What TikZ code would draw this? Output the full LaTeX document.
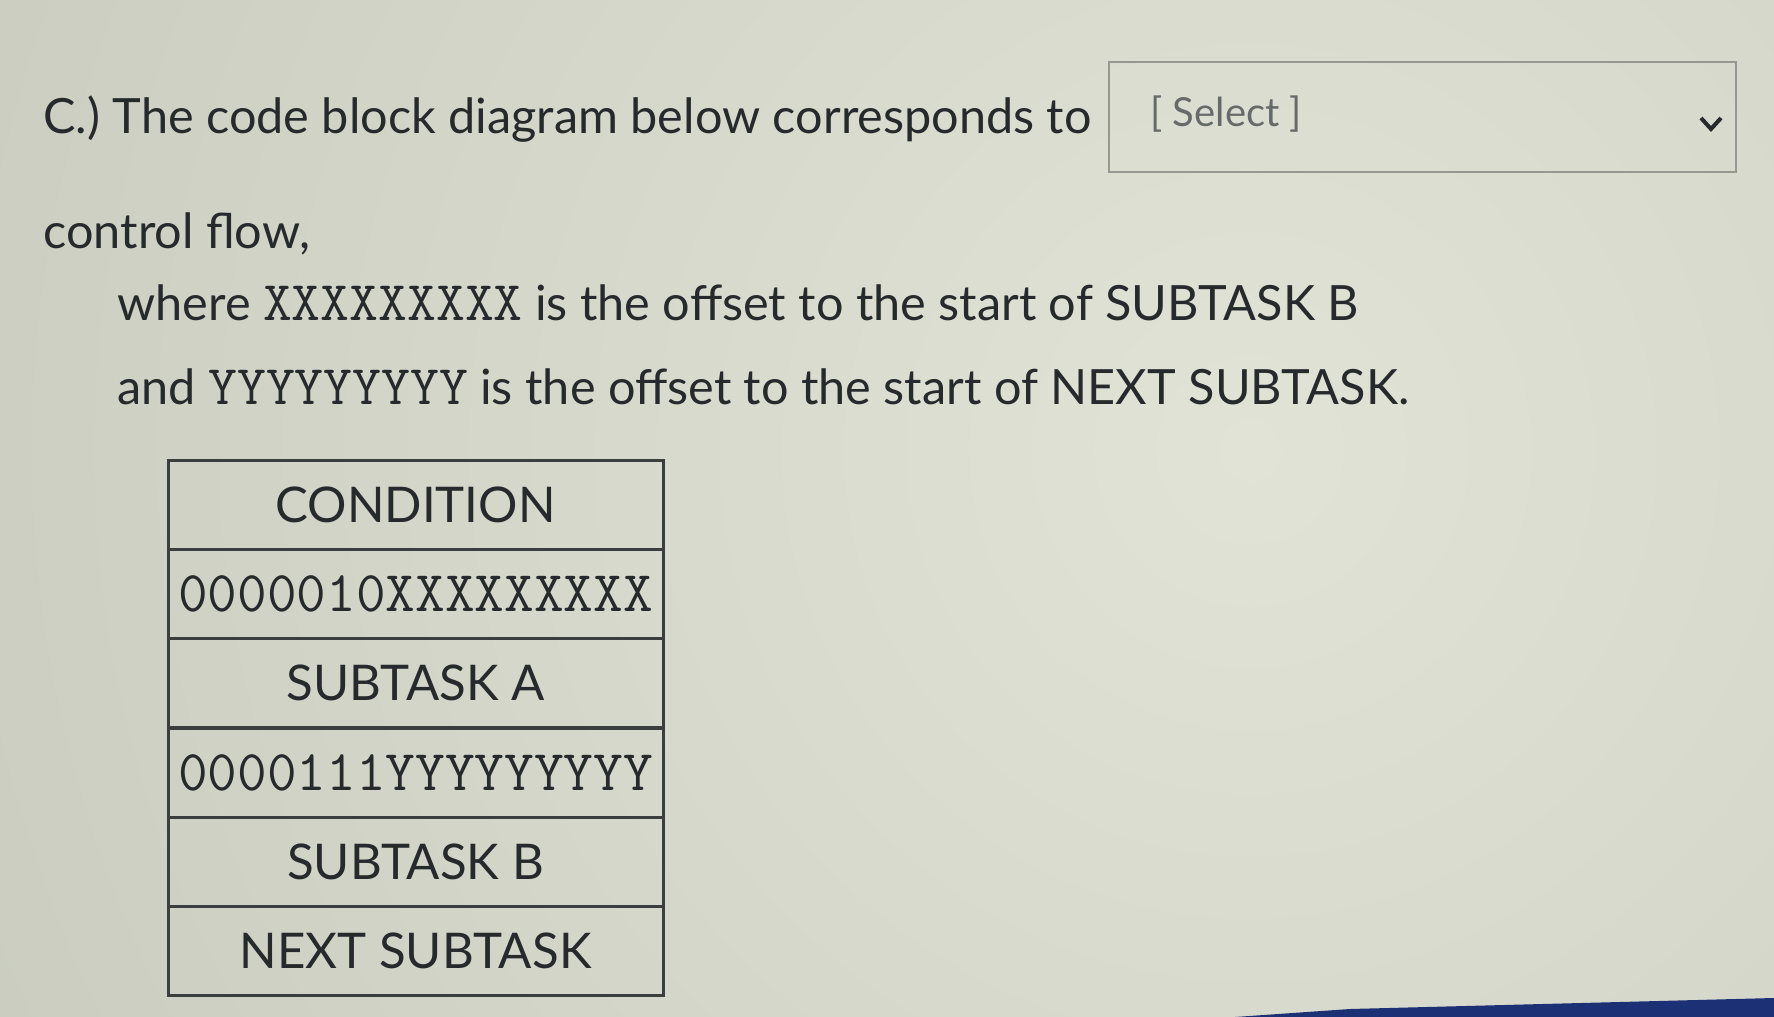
\documentclass[tikz,border=0pt]{standalone}
\usepackage{fontspec}
\setmainfont{Lato}
\usepackage{tikz}

\definecolor{bgmid}{RGB}{226,227,215}
\definecolor{bgedge}{RGB}{184,187,175}
\definecolor{ink}{RGB}{38,42,44}
\definecolor{rule}{RGB}{58,62,62}
\definecolor{boxline}{RGB}{150,152,145}
\definecolor{screenblue}{RGB}{28,48,118}

\newcommand{\offsetbits}[1]{{\ttfamily\fontsize{28}{30}\selectfont #1}}

\tikzset{
  line/.style={font=\fontsize{24.3}{28}\selectfont, text=ink, anchor=base west, inner sep=0pt},
  cell/.style={draw=rule, line width=1.5pt, minimum width=247.5pt, minimum height=44.67pt,
    inner sep=0pt, text=ink, font=\fontsize{24.6}{27}\selectfont},
  codecell/.style={cell, font=\ttfamily\fontsize{28.8}{30}\selectfont},
}

\begin{document}
\begin{tikzpicture}[x=0.5pt, y=-0.5pt]
\useasboundingbox (0,0) rectangle (1774,1017);
\begin{scope}
\clip (0,0) rectangle (1774,1017);
\shade[inner color=bgmid, outer color=bgedge] (1250,450) circle [radius=1250pt];
\fill[screenblue] (1235,1017) -- (1350,1009) -- (1774,998) -- (1774,1017) -- cycle;
\end{scope}

% question text
\node[line] (q1) at (43,133) {C.) The code block diagram below corresponds to};
\node[line] (q2) at (43,248) {control flow,};
\node[line] (q3) at (117,320) {where \offsetbits{XXXXXXXXX} is the offset to the start of SUBTASK B};
\node[line] (q4) at (117,404) {and \offsetbits{YYYYYYYYY} is the offset to the start of NEXT SUBTASK.};

% select box
\node[draw=boxline, line width=0.75pt, minimum width=313.5pt, minimum height=55pt, inner sep=0pt] (sel) at (1422.5,117) {};
\node[line, font=\fontsize{20}{23}\selectfont, text=ink!70] (seltext) at (1150,126) {[ Select ]};
\draw[ink, line width=2pt] (1701,118) -- (1711,129) -- (1721,118);

% code block
\node[cell] (cond) at (415.5,504.7) {CONDITION};
\node[codecell] (jumpx) at (415.5,594) {0000010XXXXXXXXX};
\node[cell] (taska) at (415.5,683.3) {SUBTASK A};
\node[codecell] (jumpy) at (415.5,772.7) {0000111YYYYYYYYY};
\node[cell] (taskb) at (415.5,862) {SUBTASK B};
\node[cell] (next) at (415.5,951.3) {NEXT SUBTASK};
\end{tikzpicture}
\end{document}
